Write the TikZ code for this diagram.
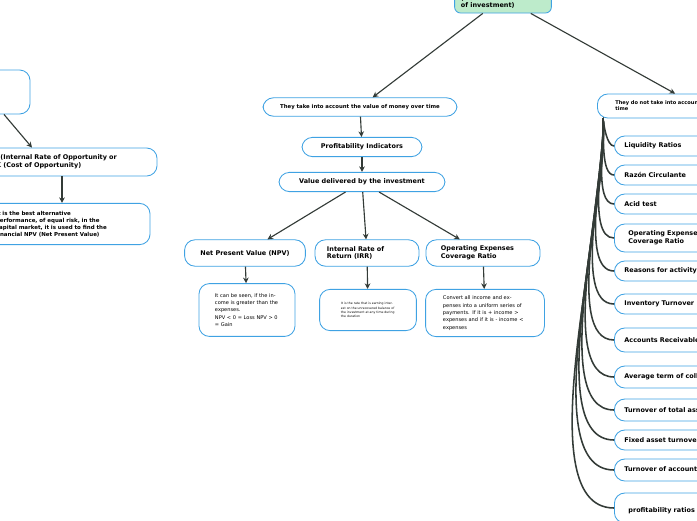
\documentclass[tikz,border=0pt]{standalone}
\usepackage{fontspec}
\setmainfont{DejaVu Sans}
\usetikzlibrary{positioning,arrows.meta}
\definecolor{bblue}{HTML}{3FA2E3}
\definecolor{dgray}{HTML}{333B37}
\definecolor{mint}{HTML}{BDEBCB}
\begin{document}
\begin{tikzpicture}[x=0.025cm,y=-0.025cm,
    box/.style={rectangle, draw=bblue, line width=0.6pt, fill=white, rounded corners=0.26cm,
      font=\fontsize{4.6}{5.6}\selectfont\bfseries, align=center, inner sep=0pt},
    desc/.style={box, font=\fontsize{3.6}{5.2}\selectfont, align=left},
    arrow/.style={-{Stealth[length=4pt,width=4pt]}, draw=dgray, line width=0.8pt},
    branch/.style={draw=dgray, line width=1.1pt}
]
    \useasboundingbox (0,0) rectangle (697,520);
    \clip (0,0) rectangle (697,520);
    % middle column
    \node[box, fill=mint, minimum width=2.42cm, minimum height=0.75cm, rounded corners=0.15cm, text width=2.1cm, align=left] (root) at (503,-2) {Evaluation Methods (Return\\of investment)};
    \node[box, minimum width=4.85cm, minimum height=0.46cm, font=\fontsize{3.8}{4.6}\selectfont\bfseries] (take) at (360,107) {They take into account the value of money over time};
    \node[box, minimum width=3cm, minimum height=0.48cm] (prof) at (362,147) {Profitability Indicators};
    \node[box, minimum width=4.15cm, minimum height=0.48cm] (value) at (362,182) {Value delivered by the investment};
    \node[box, minimum width=3.02cm, minimum height=0.66cm] (npv) at (245,253) {Net Present Value (NPV)};
    \node[box, minimum width=2.6cm, minimum height=0.66cm, text width=2cm, align=left] (irr) at (367,253) {Internal Rate of\\Return (IRR)};
    \node[box, minimum width=2.85cm, minimum height=0.66cm, text width=2.1cm, align=left] (oper) at (483,253) {Operating Expenses\\Coverage Ratio};
    \node[desc, minimum width=2.4cm, minimum height=1.32cm, text width=1.6cm] (npvd) at (247,310) {It can be seen, if the income is greater than the expenses.\\NPV < 0 = Loss NPV > 0 = Gain};
    \node[desc, minimum width=2.42cm, minimum height=1.03cm, text width=1.35cm, font=\fontsize{2.2}{3}\selectfont] (irrd) at (368,310) {It is the rate that is earning interest on the unrecovered balance of the investment at any time during the duration};
    \node[desc, minimum width=2.97cm, minimum height=1.18cm, text width=2.1cm] (operd) at (485,313) {Convert all income and expenses into a uniform series of payments. If it is + income > expenses and if it is - income < expenses};
    % left column
    \node[box, minimum width=2.25cm, minimum height=1.1cm] (lefttop) at (-15,92) {};
    \node[box, minimum width=6.45cm, minimum height=0.7cm, text width=5.6cm, align=left] (tio) at (28,162) {\hspace*{1.75cm}TIO (Internal Rate of Opportunity or\\\hspace*{1.75cm}COK (Cost of Opportunity)};
    \node[box, minimum width=6cm, minimum height=1.03cm, text width=5.3cm, align=left, font=\fontsize{3.9}{5}\selectfont\bfseries] (best) at (30,224) {\hspace*{1.8cm}It is the best alternative\\\hspace*{1.8cm}performance, of equal risk, in the\\\hspace*{1.8cm}capital market, it is used to find the\\\hspace*{1.8cm}financial NPV (Net Present Value)};
    % right column
    \node[box, minimum width=4.2cm, minimum height=0.6cm, text width=5cm, align=left, anchor=west, font=\fontsize{3.6}{4.2}\selectfont\bfseries] (notake) at (597,106) {\hspace*{0.45cm}They do not take into account the value of money over\\\hspace*{0.45cm}time};
    \coordinate (trunk) at (603,118);
    \foreach \n/\y/\h/\t in {liq/146/0.5/Liquidity Ratios, cur/175/0.5/Razón Circulante, acid/204/0.5/Acid test,
        opc/238/0.7/{\hspace*{0.1cm}Operating Expenses\\\hspace*{0.1cm}Coverage Ratio}, act/271/0.5/Reasons for activity,
        inv/304/0.5/Inventory Turnover, rec/340/0.6/Accounts Receivable Turnover, avg/377/0.55/Average term of collection,
        tot/410/0.55/Turnover of total assets, fix/440/0.5/Fixed asset turnover, acc/470/0.55/Turnover of accounts payable,
        pra/508/0.75/{\\[2pt]\hspace*{0.1cm}profitability ratios}} {
        \node[box, minimum width=4cm, minimum height=\h cm, text width=3.5cm, align=left, anchor=west] (\n) at (614,\y) {\t};
        \draw[branch] (trunk) to[out=-85,in=180,looseness=0.6] (\n.west);
    }
    % arrows
    \draw[arrow] (root) -- (take);
    \draw[arrow] (root) -- (notake);
    \draw[arrow] (take) -- (prof);
    \draw[arrow] (prof) -- (value);
    \draw[arrow] (value) -- (npv);
    \draw[arrow] (value) -- (irr);
    \draw[arrow] (value) -- (oper);
    \draw[arrow] (npv) -- (npvd);
    \draw[arrow] (irr) -- (irrd);
    \draw[arrow] (oper) -- (operd);
    \draw[arrow] (lefttop) -- (tio.north -| 32,0);
    \draw[arrow] (tio.south -| 62,0) -- (best.north -| 62,0);
\end{tikzpicture}
\end{document}
